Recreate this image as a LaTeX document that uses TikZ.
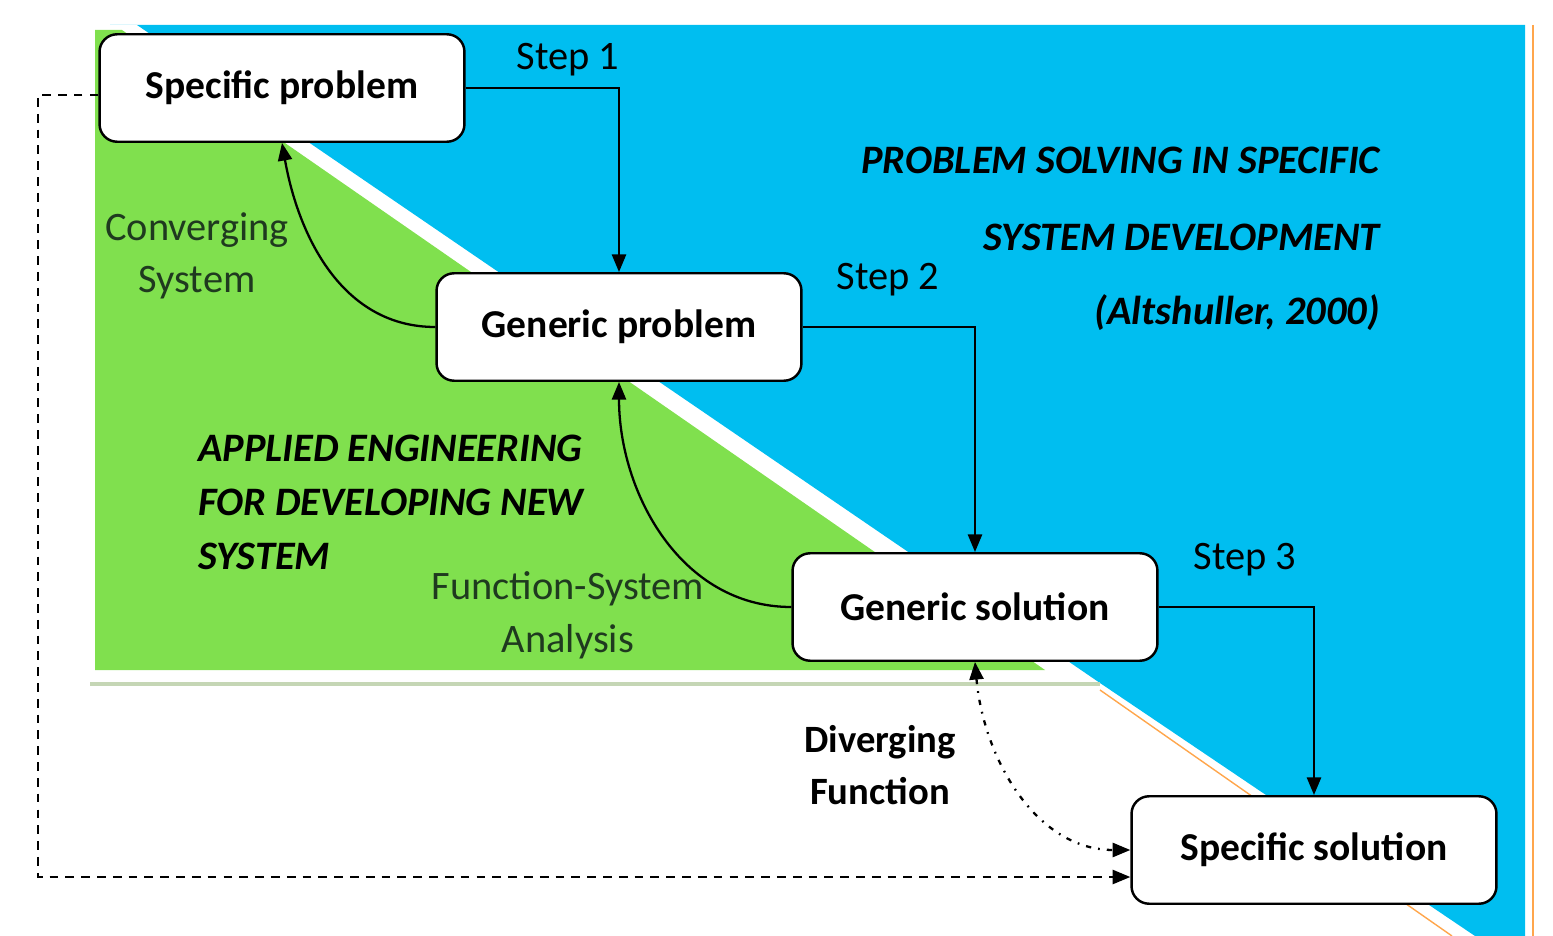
\documentclass[tikz,border=0pt]{standalone}
\usepackage{fontspec}
\setmainfont{Carlito}
\usetikzlibrary{arrows.meta}
\definecolor{sky}{HTML}{00BEF0}
\definecolor{grn}{HTML}{80E04E}
\definecolor{txtg}{HTML}{1F3A1F}
\definecolor{gline}{HTML}{C5D6B5}
\begin{document}
\begin{tikzpicture}[x=0.02cm,y=-0.02cm,
 box/.style={draw=black,line width=1.4pt,fill=white,rounded corners=10pt,minimum width=7.3cm,minimum height=2.15cm,font=\bfseries\fontsize{22.5}{26}\selectfont},
 lbl/.style={font=\fontsize{23}{30}\selectfont,align=center},
 ttl/.style={font=\bfseries\itshape\fontsize{23}{26}\selectfont},
 arr/.style={line width=1.3pt,-{Triangle[length=10pt,width=8pt]}}]
\useasboundingbox (0,0) rectangle (1553,936);
\fill[grn] (95,30) -- (122,30) -- (1045,670) -- (95,670) -- cycle;
\fill[sky] (110,25) -- (1525,25) -- (1525,936) -- (1475,936) -- (1100,683) -- (137,25) -- cycle;
\draw[color=gline,line width=2.5pt] (90,684) -- (1100,684);
\draw[orange!70,line width=0.8pt] (1100,690) -- (1452,936);
\draw[orange!70,line width=0.8pt] (1533,25) -- (1533,936);
\node[box] (sp) at (282,88) {Specific problem};
\node[box] (gp) at (619,327) {Generic problem};
\node[box] (gs) at (975,607) {Generic solution};
\node[box] (ss) at (1314,850) {Specific solution};
\coordinate (c1) at (38,95);
\coordinate (c2) at (38,877);
\draw[arr] (sp.east |- 0,88) -| (gp.north);
\draw[arr] (gp.east) -| (gs.north);
\draw[arr] (gs.east) -| (ss.north);
\draw[arr] (gp.west) to[out=180,in=-80] (sp.south);
\draw[arr] (gs.west) to[out=180,in=-90] (gp.south);
\draw[line width=1.3pt,dash pattern=on 3pt off 4pt on 1pt off 4pt,{Triangle[length=10pt,width=8pt]}-{Triangle[length=10pt,width=8pt]}] (gs.south) to[out=-85,in=180] (ss.west);
\draw[line width=1.2pt,dash pattern=on 5pt off 4pt,-{Triangle[length=10pt,width=8pt]}] (sp.west |- c1) -- (c1) -- (c2) -- (c2 -| ss.west);
\node[lbl] (s1) at (568,60) {Step 1};
\node[lbl] (s2) at (888,280) {Step 2};
\node[lbl] (s3) at (1245,560) {Step 3};
\node[lbl,text=txtg] (cs) at (197,256) {Converging\\System};
\node[lbl,text=txtg] (fs) at (568,615) {Function-System\\Analysis};
\node[lbl,font=\bfseries\fontsize{22}{30}\selectfont] (df) at (880,765) {Diverging\\Function};
\node[ttl,anchor=east] (t1) at (1386,160) {PROBLEM SOLVING IN SPECIFIC};
\node[ttl,anchor=east] (t2) at (1386,237) {SYSTEM DEVELOPMENT};
\node[ttl,anchor=east] (t3) at (1386,313) {(Altshuller, 2000)};
\node[ttl,anchor=west] (a1) at (192,448) {APPLIED ENGINEERING};
\node[ttl,anchor=west] (a2) at (192,502) {FOR DEVELOPING NEW};
\node[ttl,anchor=west] (a3) at (192,556) {SYSTEM};
\end{tikzpicture}
\end{document}
